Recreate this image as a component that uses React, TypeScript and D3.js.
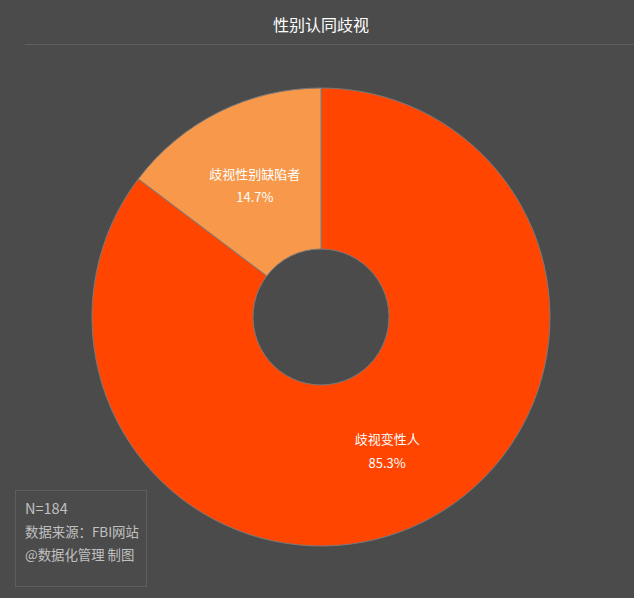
import React from "react";
import * as d3 from "d3";

const categories = ["歧视变性人", "歧视性别缺陷者"];
const values = [85.3, 14.7];
const colors = ["#ff4500", "#f7984a"];
const title = "性别认同歧视";
const notes = ["N=184", "数据来源：FBI网站", "@数据化管理 制图"];

const W = 634, H = 598;
const cx = 321, cy = 317, R = 229, r0 = 68;
const font = "'Microsoft YaHei','Noto Sans CJK SC',sans-serif";

export default function App() {
  const pie = d3.pie<number>().sort(null).value((d) => d);
  const arcs = pie(values);
  const arc = d3.arc<d3.PieArcDatum<number>>().innerRadius(r0).outerRadius(R);
  return (
    <svg width={W} height={H} style={{ position: "absolute", left: 0, top: 0, background: "#4b4b4b" }}>
      <rect width={W} height={H} fill="#4b4b4b" />
      <text x={cx} y={24} textAnchor="middle" dominantBaseline="central" fill="#ffffff" fontSize={16} fontFamily={font}>{title}</text>
      <line x1={25} x2={W} y1={44.5} y2={44.5} stroke="#5e5e5e" strokeWidth={1} />
      <g transform={`translate(${cx},${cy})`}>
        {arcs.map((a, i) => (
          <path key={i} d={arc(a) || ""} fill={colors[i]} stroke="#7a7a7a" strokeWidth={1} />
        ))}
        {arcs.map((a, i) => {
          const [x, y] = arc.centroid(a);
          return (
            <g key={"l" + i} fontFamily={font} fontSize={13} fill="#ffffff" textAnchor="middle">
              <text x={x} y={y - 11} dominantBaseline="central">{categories[i]}</text>
              <text x={x} y={y + 12.5} dominantBaseline="central">{d3.format(".1f")(values[i])}%</text>
            </g>
          );
        })}
      </g>
      <rect x={15.5} y={490.5} width={131} height={96} fill="none" stroke="#5e5e5e" />
      {notes.map((t, i) => (
        <text key={i} x={25} y={507 + i * 23.5} dominantBaseline="central" fill="#c0c0c0" fontSize={i === 0 ? 14.5 : 13.4} fontFamily={font}>{t}</text>
      ))}
    </svg>
  );
}
